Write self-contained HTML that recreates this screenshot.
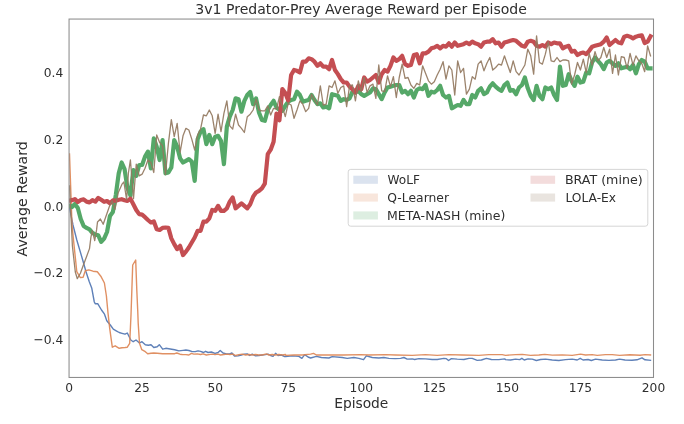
<!DOCTYPE html>
<html><head><meta charset="utf-8"><title>3v1 Predator-Prey Average Reward per Episode</title>
<style>
html,body{margin:0;padding:0;background:#fff;}
svg{display:block;}
text{font-family:"DejaVu Sans", "Liberation Sans", sans-serif;fill:#2e2e2e;}
</style></head><body>
<svg width="684" height="424" viewBox="0 0 684 424">
<rect x="0" y="0" width="684" height="424" fill="#ffffff"/>
<clipPath id="ax"><rect x="69.05" y="19.05" width="584.45" height="358.4"/></clipPath>
<g clip-path="url(#ax)" fill="none" stroke-linejoin="round" stroke-linecap="square">
<polyline stroke="#4c72b0" stroke-width="1.4" stroke-opacity="0.9" points="69.50,208.00 73.00,225.00 76.80,240.00 82.70,260.00 86.00,271.70 89.30,281.70 91.80,288.30 94.30,302.00 95.20,303.70 97.70,303.70 101.50,310.00 104.50,314.20 106.80,320.80 110.30,325.00 113.30,329.20 116.20,330.80 119.20,332.50 122.00,333.30 125.00,334.20 127.30,333.00 130.80,340.00 133.20,341.70 136.00,340.00 139.50,343.00 142.00,341.70 145.30,344.70 148.30,345.30 151.00,344.70 153.80,347.50 157.20,346.70 159.30,344.70 162.70,349.20 165.80,348.30 168.80,348.70 171.70,349.20 174.70,349.70 178.88,350.83 183.05,350.33 185.88,350.00 188.88,350.50 192.22,351.67 195.22,351.67 198.05,350.83 200.55,351.33 203.55,352.50 205.55,351.33 208.05,352.50 211.38,352.00 215.05,353.33 218.05,352.50 220.22,350.50 223.05,353.00 226.38,353.83 229.72,353.83 231.88,353.00 234.72,356.17 238.05,355.83 241.38,355.00 244.22,354.17 247.22,353.83 249.72,355.50 252.22,354.17 255.55,355.83 258.88,355.50 262.22,355.00 265.55,354.67 268.05,354.17 270.55,355.50 273.05,356.33 275.55,353.33 278.05,355.50 281.38,355.00 284.72,356.67 285.55,356.67 292.22,355.83 298.88,356.33 301.88,358.33 304.72,354.67 308.05,357.00 310.55,358.00 316.38,356.33 321.38,357.50 328.88,358.00 332.22,356.67 342.22,357.50 347.22,358.33 353.88,357.50 358.88,358.33 363.55,359.67 366.38,355.83 372.22,357.50 378.88,358.00 383.88,357.50 388.88,358.33 394.72,358.67 395.55,358.67 400.55,358.33 403.88,357.50 407.22,359.17 412.22,358.83 414.72,359.50 418.88,358.67 425.55,358.83 432.22,359.50 437.22,359.50 443.88,358.33 446.38,358.67 448.55,360.50 451.38,358.67 457.22,359.17 463.88,359.50 468.88,358.33 472.22,358.33 477.22,360.33 481.38,360.00 486.38,358.33 491.38,359.50 498.88,359.67 504.72,358.83 505.55,359.67 510.55,360.00 515.55,359.17 519.72,359.67 521.88,358.33 524.22,360.00 528.05,358.83 532.22,359.17 536.38,360.50 540.55,359.50 545.55,359.17 552.22,360.00 558.88,360.50 565.55,359.67 572.22,359.17 577.22,360.00 580.22,358.33 583.05,360.00 588.05,359.50 591.38,360.50 595.55,359.17 602.22,360.00 608.88,360.33 615.55,360.00 619.55,359.17 625.00,360.00 632.00,360.30 637.00,359.80 642.00,357.80 645.00,359.80 650.50,360.30"/>
<polyline stroke="#dd8452" stroke-width="1.4" stroke-opacity="0.9" points="69.50,154.00 72.00,225.00 73.50,240.00 76.80,271.70 80.20,277.50 83.10,277.20 85.30,270.80 88.80,269.90 93.00,271.20 97.30,271.80 100.80,276.20 104.40,283.00 106.40,296.00 107.90,312.00 109.70,328.30 112.30,347.20 115.20,345.80 119.20,348.30 122.00,347.80 125.00,347.50 127.30,347.20 129.70,343.30 131.00,315.00 132.70,265.00 135.70,260.00 136.80,290.00 137.70,310.00 138.20,323.30 139.50,343.30 141.80,349.70 145.30,351.70 147.70,353.80 151.00,353.30 153.80,353.00 157.20,353.30 162.70,353.70 168.80,353.80 174.70,353.70 176.80,353.00 180.00,354.20 182.22,354.50 185.88,354.67 188.88,355.00 191.38,353.33 193.88,354.17 197.22,353.83 200.55,354.50 203.05,353.83 206.38,355.00 208.88,354.67 212.22,354.17 215.05,354.67 218.05,354.17 220.55,355.00 223.88,354.50 227.22,354.17 229.72,354.50 233.05,354.17 235.55,355.50 238.88,354.67 242.22,354.17 245.55,355.00 248.88,354.50 252.22,355.00 255.55,354.50 258.88,355.00 262.22,355.00 266.38,353.83 268.88,355.00 272.22,354.50 275.55,355.00 278.88,354.50 282.22,355.00 285.55,354.50 285.55,355.33 293.88,355.00 302.22,355.00 310.55,354.17 313.55,353.33 316.38,355.00 327.22,355.00 343.88,355.00 360.55,354.67 368.88,355.00 385.55,354.67 395.55,355.00 395.55,355.00 412.22,355.33 425.55,354.67 437.22,355.33 448.88,354.67 462.22,355.00 478.88,355.33 488.88,354.67 502.22,354.67 505.55,355.33 515.55,354.67 522.22,354.33 530.55,355.33 538.88,355.00 544.72,354.33 552.22,355.17 562.22,354.83 572.22,355.33 580.55,354.17 585.55,355.00 592.22,354.67 597.22,355.33 605.55,354.67 612.22,354.67 619.55,355.33 630.00,354.80 640.00,355.20 645.00,354.60 650.50,355.00"/>
<polyline stroke="#55a868" stroke-width="4.2" points="69.05,205.80 71.97,207.00 74.89,204.00 77.82,208.00 80.74,219.00 83.66,226.00 86.58,227.90 89.50,229.30 92.43,232.80 95.35,234.60 98.27,235.30 101.19,241.80 104.11,238.60 107.04,232.00 109.96,216.00 112.88,212.00 115.80,195.00 118.72,173.33 121.65,162.50 124.57,169.17 127.49,188.33 130.41,195.50 133.33,170.00 136.26,175.83 139.18,165.00 142.10,165.00 145.02,156.67 147.94,151.67 150.87,168.33 153.79,138.33 156.71,146.67 159.63,160.00 162.55,140.00 165.48,173.33 168.40,172.50 171.32,167.50 174.24,140.00 177.16,146.67 180.09,158.33 183.01,162.50 185.93,160.83 188.85,159.17 191.77,161.67 194.70,180.83 197.62,139.17 200.54,131.67 203.46,129.17 206.38,144.17 209.31,135.00 212.23,144.17 215.15,136.67 218.07,135.83 220.99,140.83 223.92,164.17 226.84,126.67 229.76,116.67 232.68,110.00 235.60,98.33 238.53,99.17 241.45,111.67 244.37,100.83 247.29,95.00 250.21,92.00 253.14,104.17 256.06,98.33 258.98,112.50 261.90,120.00 264.82,120.83 267.75,110.00 270.67,105.00 273.59,100.83 276.51,107.50 279.43,110.00 282.36,110.83 285.28,105.83 288.20,101.67 291.12,100.00 294.04,99.17 296.97,91.67 299.89,95.00 302.81,101.67 305.73,100.83 308.65,100.00 311.58,95.00 314.50,100.00 317.42,104.17 320.34,103.33 323.26,107.50 326.19,106.67 329.11,108.33 332.03,94.17 334.95,95.00 337.87,95.83 340.80,100.83 343.72,99.17 346.64,100.00 349.56,98.33 352.48,91.67 355.41,92.50 358.33,90.83 361.25,94.17 364.17,95.83 367.09,94.17 370.02,92.50 372.94,88.33 375.86,89.17 378.78,94.17 381.70,99.17 384.63,92.50 387.55,87.50 390.47,86.67 393.39,85.83 396.31,85.00 399.24,85.00 402.16,92.50 405.08,90.83 408.00,94.17 410.92,90.83 413.85,97.50 416.77,90.00 419.69,88.33 422.61,89.17 425.53,85.00 428.46,95.83 431.38,91.67 434.30,92.50 437.22,90.00 440.14,85.83 443.07,95.00 445.99,97.50 448.91,95.83 451.83,108.33 454.75,106.67 457.68,105.00 460.60,105.83 463.52,100.00 466.44,104.17 469.36,104.17 472.29,95.00 475.21,97.50 478.13,90.83 481.05,88.33 483.97,94.17 486.90,92.50 489.82,86.67 492.74,83.33 495.66,86.67 498.58,89.17 501.51,90.83 504.43,85.00 507.35,82.50 510.27,90.83 513.19,90.00 516.12,94.17 519.04,87.50 521.96,85.00 524.88,77.50 527.80,88.33 530.73,95.83 533.65,100.00 536.57,85.83 539.49,95.83 542.41,99.17 545.34,87.50 548.26,89.17 551.18,87.50 554.10,95.00 557.02,100.00 559.95,66.67 562.87,85.83 565.79,85.00 568.71,74.17 571.63,80.83 574.56,85.83 577.48,76.67 580.40,82.50 583.32,81.67 586.24,72.50 589.17,73.33 592.09,62.50 595.01,57.50 597.93,60.83 600.85,64.17 603.78,69.17 606.70,62.50 609.62,60.83 612.54,63.33 615.46,65.83 618.39,63.33 621.31,68.33 624.23,67.50 627.15,66.67 630.07,69.17 633.00,65.00 635.92,73.33 638.84,64.17 641.76,60.00 644.68,61.67 647.61,68.33 650.53,68.33"/>
<polyline stroke="#c44e52" stroke-width="4.2" points="69.05,200.60 71.97,200.20 74.89,199.10 77.82,201.90 80.74,200.00 83.66,199.30 86.58,201.60 89.50,202.40 92.43,200.20 95.35,201.60 98.27,197.90 101.19,199.80 104.11,201.80 107.04,201.00 109.96,203.30 112.88,200.40 115.80,200.80 118.72,199.80 121.65,199.20 124.57,200.20 127.49,201.00 130.41,198.60 133.33,204.20 136.26,210.00 139.18,214.17 142.10,214.67 145.02,217.17 147.94,220.00 150.87,222.50 153.79,221.33 156.71,229.17 159.63,230.00 162.55,227.83 165.48,227.50 168.40,227.83 171.32,238.33 174.24,244.17 177.16,249.17 180.09,245.83 183.01,255.00 185.93,251.67 188.85,247.50 191.77,242.50 194.70,237.50 197.62,230.83 200.54,230.83 203.46,221.67 206.38,221.67 209.31,218.33 212.23,210.00 215.15,210.83 218.07,205.83 220.99,210.83 223.92,210.83 226.84,208.33 229.76,201.67 232.68,197.50 235.60,208.33 238.53,205.83 241.45,203.33 244.37,205.83 247.29,208.33 250.21,204.17 253.14,196.67 256.06,192.50 258.98,190.83 261.90,188.33 264.82,183.67 267.75,154.17 270.67,149.67 273.59,141.67 276.51,113.50 279.43,120.20 282.36,89.00 285.28,93.00 288.20,100.50 291.12,75.00 294.04,70.00 296.97,70.83 299.89,72.50 302.81,61.67 305.73,61.67 308.65,58.33 311.58,59.17 314.50,61.67 317.42,65.83 320.34,63.33 323.26,66.67 326.19,66.67 329.11,69.17 332.03,60.00 334.95,70.00 337.87,74.17 340.80,79.17 343.72,82.50 346.64,82.50 349.56,86.67 352.48,89.17 355.41,92.50 358.33,85.83 361.25,89.17 364.17,77.50 367.09,81.67 370.02,80.00 372.94,77.50 375.86,75.00 378.78,82.50 381.70,74.17 384.63,70.00 387.55,71.67 390.47,65.83 393.39,57.50 396.31,60.83 399.24,59.17 402.16,55.83 405.08,64.17 408.00,65.83 410.92,65.00 413.85,55.00 416.77,54.17 419.69,63.33 422.61,53.33 425.53,53.33 428.46,51.67 431.38,48.33 434.30,47.50 437.22,45.83 440.14,48.33 443.07,45.83 445.99,46.67 448.91,43.33 451.83,46.67 454.75,42.50 457.68,45.83 460.60,45.00 463.52,44.17 466.44,42.50 469.36,44.17 472.29,41.67 475.21,43.33 478.13,44.17 481.05,46.67 483.97,42.50 486.90,41.67 489.82,41.67 492.74,39.17 495.66,43.33 498.58,42.50 501.51,46.67 504.43,42.50 507.35,41.67 510.27,40.83 513.19,40.00 516.12,40.83 519.04,43.33 521.96,45.83 524.88,46.67 527.80,41.67 530.73,40.83 533.65,41.67 536.57,45.83 539.49,46.67 542.41,45.00 545.34,46.67 548.26,42.50 551.18,44.17 554.10,42.50 557.02,43.33 559.95,43.33 562.87,48.33 565.79,46.67 568.71,45.83 571.63,51.67 574.56,50.83 577.48,55.00 580.40,53.33 583.32,52.50 586.24,54.17 589.17,50.83 592.09,46.67 595.01,45.83 597.93,45.00 600.85,44.17 603.78,41.67 606.70,37.50 609.62,45.00 612.54,42.50 615.46,40.00 618.39,42.50 621.31,43.33 624.23,36.67 627.15,35.83 630.07,36.67 633.00,38.33 635.92,36.67 638.84,35.83 641.76,35.33 644.68,43.00 647.61,41.67 650.53,36.33"/>
<polyline stroke="#937860" stroke-width="1.3" stroke-opacity="0.92" points="69.50,186.00 72.40,246.00 75.30,272.00 77.30,278.70 80.50,273.00 83.40,265.00 86.70,256.20 89.50,248.60 90.90,237.30 92.30,230.70 94.70,240.60 96.60,229.70 97.50,222.00 100.40,219.00 103.20,224.20 109.30,206.70 112.20,200.60 115.00,209.50 118.30,192.50 122.00,184.20 123.90,182.00 126.60,199.60 128.40,173.00 130.40,160.00 133.50,198.60 136.26,164.17 139.18,175.83 142.10,174.17 145.02,168.33 147.94,160.00 150.87,162.50 153.79,172.50 156.71,135.00 159.63,142.50 162.55,145.83 165.48,174.50 168.40,143.33 171.32,119.67 174.24,136.67 177.16,123.33 180.09,152.50 183.01,135.83 185.93,128.33 188.85,130.00 191.77,139.17 194.70,150.00 197.62,135.00 200.54,129.17 203.46,115.00 206.38,115.83 209.31,110.00 212.23,115.83 215.15,133.33 218.07,114.17 220.99,131.67 223.92,113.33 226.84,100.83 229.76,125.83 232.68,129.17 235.60,114.17 238.53,125.00 241.45,128.33 244.37,132.50 247.29,116.67 250.21,114.17 253.14,110.00 256.06,99.17 258.98,110.00 261.90,110.83 264.82,110.83 267.75,105.83 270.67,115.00 273.59,108.33 276.51,109.17 279.43,96.67 282.36,106.67 285.28,116.67 288.20,103.33 291.12,105.00 294.04,118.33 296.97,110.00 299.89,100.83 302.81,104.17 305.73,111.67 308.65,108.33 311.58,94.17 314.50,100.00 317.42,105.00 320.34,85.83 323.26,105.00 326.19,104.17 329.11,85.83 332.03,87.50 334.95,80.83 337.87,93.33 340.80,87.50 343.72,85.83 346.64,106.67 349.56,85.83 352.48,85.00 355.41,100.83 358.33,80.83 361.25,91.67 364.17,77.50 367.09,92.50 370.02,85.83 372.94,84.17 375.86,98.33 378.78,65.00 381.70,90.83 384.63,91.67 387.55,75.83 390.47,86.67 393.39,76.67 396.31,97.50 399.24,77.50 402.16,64.17 405.08,78.33 408.00,77.50 410.92,85.00 413.85,88.33 416.77,83.33 419.69,85.00 422.61,65.83 425.53,73.33 428.46,80.83 431.38,84.17 434.30,81.67 437.22,75.00 440.14,69.17 443.07,61.67 445.99,79.17 448.91,65.83 451.83,70.00 454.75,95.00 457.68,60.83 460.60,72.50 463.52,68.33 466.44,94.17 469.36,89.17 472.29,76.67 475.21,79.17 478.13,64.17 481.05,60.83 483.97,70.83 486.90,63.33 489.82,57.50 492.74,70.00 495.66,67.50 498.58,64.17 501.51,65.00 504.43,55.83 507.35,64.17 510.27,72.50 513.19,60.83 516.12,71.67 519.04,75.00 521.96,70.00 524.88,65.00 527.80,49.17 530.73,55.83 533.65,74.17 536.57,35.83 539.49,62.50 542.41,64.17 545.34,54.17 548.26,41.67 551.18,60.83 554.10,61.67 557.02,57.50 559.95,61.67 562.87,60.00 565.79,60.00 568.71,60.83 571.63,84.17 574.56,75.00 577.48,62.50 580.40,70.00 583.32,59.17 586.24,72.50 589.17,53.33 592.09,65.00 595.01,51.67 597.93,60.83 600.85,57.50 603.78,47.50 606.70,57.50 609.62,49.17 612.54,73.33 615.46,55.00 618.39,75.00 621.31,56.67 624.23,57.50 627.15,68.33 630.07,53.33 633.00,65.00 635.92,55.83 638.84,60.83 641.76,63.33 644.68,71.67 647.61,45.83 650.53,55.83"/>
</g>
<rect x="69.05" y="19.05" width="584.45" height="358.4" fill="none" stroke="#8c8c8c" stroke-width="1.05"/>

<text x="361.15" y="14.2" font-size="14.06" text-anchor="middle">3v1 Predator-Prey Average Reward per Episode</text>
<text transform="translate(69.05,391.75) scale(1,1.06)" font-size="12.25" text-anchor="middle">0</text>
<text transform="translate(142.11,391.75) scale(1,1.06)" font-size="12.25" text-anchor="middle">25</text>
<text transform="translate(215.16,391.75) scale(1,1.06)" font-size="12.25" text-anchor="middle">50</text>
<text transform="translate(288.22,391.75) scale(1,1.06)" font-size="12.25" text-anchor="middle">75</text>
<text transform="translate(361.28,391.75) scale(1,1.06)" font-size="12.25" text-anchor="middle">100</text>
<text transform="translate(434.33,391.75) scale(1,1.06)" font-size="12.25" text-anchor="middle">125</text>
<text transform="translate(507.39,391.75) scale(1,1.06)" font-size="12.25" text-anchor="middle">150</text>
<text transform="translate(580.44,391.75) scale(1,1.06)" font-size="12.25" text-anchor="middle">175</text>
<text transform="translate(653.50,391.75) scale(1,1.06)" font-size="12.25" text-anchor="middle">200</text>
<text transform="translate(63.3,77.35) scale(1,1.06)" font-size="12.25" text-anchor="end">0.4</text>
<text transform="translate(63.3,144.05) scale(1,1.06)" font-size="12.25" text-anchor="end">0.2</text>
<text transform="translate(63.3,210.75) scale(1,1.06)" font-size="12.25" text-anchor="end">0.0</text>
<text transform="translate(63.3,277.45) scale(1,1.06)" font-size="12.25" text-anchor="end">−0.2</text>
<text transform="translate(63.3,344.15) scale(1,1.06)" font-size="12.25" text-anchor="end">−0.4</text>
<text x="361.27" y="408.0" font-size="13.8" text-anchor="middle">Episode</text>
<text transform="translate(26.8,198.8) rotate(-90)" font-size="14.15" text-anchor="middle">Average Reward</text>
<g>
<rect x="348.2" y="169.4" width="299.6" height="56.8" rx="2.5" ry="2.5" fill="#ffffff" fill-opacity="0.8" stroke="#cccccc" stroke-opacity="0.8" stroke-width="1"/>

<rect x="353.3" y="175.70" width="24.6" height="8.1" fill="#4c72b0" fill-opacity="0.2"/>
<text x="387.6" y="184.10" font-size="12.1">WoLF</text>
<rect x="353.3" y="193.50" width="24.6" height="8.1" fill="#dd8452" fill-opacity="0.2"/>
<text x="387.3" y="201.90" font-size="12.35">Q-Learner</text>
<rect x="353.3" y="211.40" width="24.6" height="8.1" fill="#55a868" fill-opacity="0.2"/>
<text x="387.0" y="219.80" font-size="12.5">META-NASH (mine)</text>
<rect x="530.5" y="175.70" width="24.6" height="8.1" fill="#c44e52" fill-opacity="0.2"/>
<text x="564.9" y="184.10" font-size="12.64">BRAT (mine)</text>
<rect x="530.5" y="193.50" width="24.6" height="8.1" fill="#937860" fill-opacity="0.2"/>
<text x="565.4" y="201.90" font-size="12.25">LOLA-Ex</text>
</g>
</svg></body></html>
